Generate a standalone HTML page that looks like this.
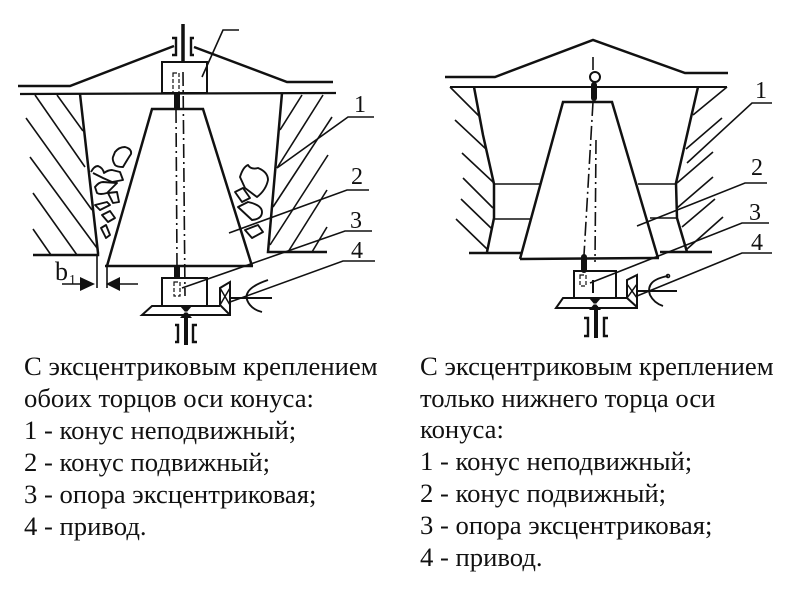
<!DOCTYPE html>
<html>
<head>
<meta charset="utf-8">
<style>
html,body{margin:0;padding:0;background:#fff;width:800px;height:600px;overflow:hidden}
svg{display:block}
text{font-family:"Liberation Serif",serif;fill:#111}
.t{font-size:26.67px}
.n{font-size:24px}
</style>
</head>
<body>
<svg width="800" height="600" viewBox="0 0 800 600" xmlns="http://www.w3.org/2000/svg">
<rect width="800" height="600" fill="#fff"/>
<g fill="none" stroke="#111" stroke-linejoin="miter" stroke-linecap="butt">
<!-- LEFT DIAGRAM -->
<g stroke-width="2.5">
<polyline points="18,86 70,86 174,46"/>
<polyline points="194,47 287,82 333,82"/>
<polyline points="80,94 98,253 98,255 33,255"/>
<polyline points="282,93 268,252 327,252"/>
<polyline points="107,266 152,109 203,109 252,266"/>
<line x1="105" y1="266" x2="253" y2="266"/>
</g>
<line x1="20" y1="94" x2="336" y2="93" stroke-width="2.2"/>
<g stroke-width="2">
<rect x="162" y="62" width="45" height="31"/>
<rect x="162" y="278" width="45" height="28"/>
<polyline points="220,306 152,306 142,315 230,315 230,282 220,288 220,305 230,315"/>
</g>
<g stroke-width="1.6">
<line x1="35" y1="95" x2="85" y2="167"/><line x1="57" y1="95" x2="83" y2="131"/>
<line x1="26" y1="118" x2="92" y2="210"/><line x1="30" y1="157" x2="97" y2="248"/>
<line x1="33" y1="193" x2="77" y2="255"/><line x1="33" y1="229" x2="51" y2="255"/>
<line x1="302" y1="95" x2="280" y2="130"/><line x1="323" y1="95" x2="277" y2="168"/>
<line x1="332" y1="117" x2="273" y2="207"/><line x1="328" y1="155" x2="270" y2="245"/>
<line x1="327" y1="190" x2="288" y2="252"/><line x1="327" y1="227" x2="312" y2="252"/>
</g>
<g stroke-width="1.6">
<polyline points="374,117 348,117 277,168"/>
<polyline points="369,190 347,190 229,233"/>
<polyline points="372,231 345,231 182,288"/>
<polyline points="375,261 343,261 230,302"/>
<polyline points="239,30 223,30 202,77"/>
<line x1="97" y1="255" x2="97" y2="288"/>
<line x1="107" y1="266" x2="107" y2="288"/>
<line x1="62" y1="284" x2="80" y2="284"/>
<line x1="138" y1="284" x2="120" y2="284"/>
<rect x="173" y="73" width="6" height="20" stroke-dasharray="4 2" stroke-width="1.2"/>
<rect x="174" y="282" width="6" height="14" stroke-dasharray="4 2" stroke-width="1.2"/>
<line x1="176" y1="109" x2="177" y2="266" stroke-dasharray="14 4 2 4"/>
<line x1="183" y1="72" x2="185" y2="296" stroke-dasharray="14 4 2 4"/>
</g>
<g stroke-width="1.9" stroke-linejoin="round">
<path d="M115,152 Q119,147 125,147 Q132,149 131,154 Q127,160 123,167 Q117,167 115,165 Q112,160 113,157 Z"/>
<path d="M95,187 Q99,182 103,182 L117,183 L107,193 Q100,195 97,193 Z"/>
<polygon points="108,193 117,192 119,202 113,203"/>
<polygon points="95,205 107,202 110,205 100,210"/>
<polygon points="102,215 110,211 115,218 108,222"/>
<polygon points="101,228 106,225 110,235 106,238"/>
<path d="M91,172 Q94,166 98,166 Q103,168 104,173 Q108,170 112,170 L120,172 L123,180 L112,182 L103,178 L93,173"/>
<path d="M240,177 Q243,167 248,165 Q251,170 258,168 Q268,172 268,180 Q266,190 257,197 L245,188 Z"/>
<polygon points="235,192 243,188 250,198 242,202"/>
<path d="M238,207 L248,202 Q262,205 262,212 Q262,219 252,220 Z"/>
<polygon points="245,230 258,225 263,232 252,238"/>
<path d="M268,280 Q238,290 250,305 Q254,310 262,312"/>
</g>
<line x1="230" y1="298" x2="272" y2="298" stroke-width="2"/>
<line x1="220" y1="288" x2="230" y2="305" stroke-width="1.5"/>
<line x1="230" y1="288" x2="220" y2="305" stroke-width="1.5"/>
<line x1="183" y1="24" x2="183" y2="62" stroke-width="3.5"/>
<line x1="177" y1="93" x2="177" y2="109" stroke-width="6"/>
<line x1="177" y1="266" x2="177" y2="278" stroke-width="6"/>
<line x1="186" y1="314" x2="186" y2="345" stroke-width="4"/>
<path d="M180,306 L192,306 L186,313 Z M180,318 L192,318 L186,311 Z" fill="#111" stroke="none"/>
<g stroke-width="2.4">
<polyline points="172,38 176,38 176,55 172,55"/>
<polyline points="194,38 191,38 191,55 194,55"/>
<polyline points="175,325 178,325 178,342 175,342"/>
<polyline points="197,325 193,325 193,342 197,342"/>
</g>
<!-- RIGHT DIAGRAM -->
<g stroke-width="2.5">
<polyline points="445,77 495,77 593,40 685,73 728,73"/>
<polyline points="474,87 483,135 494,184 494,218 487,252"/>
<polyline points="698,87 676,183 677,218 687,252"/>
<line x1="469" y1="253" x2="521" y2="253"/>
<line x1="660" y1="252" x2="712" y2="252"/>
<polyline points="520,259 563,102 612,102 658,258"/>
<line x1="520" y1="259" x2="659" y2="258"/>
</g>
<line x1="450" y1="87" x2="727" y2="87" stroke-width="2"/>
<g stroke-width="2">
<rect x="574" y="271" width="42" height="27"/>
<polyline points="628,298 563,298 556,308 637,308 637,275 627,280 627,298 637,307"/>
</g>
<g stroke-width="1.6">
<line x1="494" y1="184" x2="540" y2="184"/><line x1="638" y1="184" x2="676" y2="184"/>
<line x1="494" y1="219" x2="530" y2="219"/><line x1="650" y1="218" x2="677" y2="218"/>
<line x1="450" y1="87" x2="480" y2="117"/><line x1="455" y1="120" x2="486" y2="149"/>
<line x1="462" y1="153" x2="493" y2="182"/><line x1="463" y1="178" x2="493" y2="208"/>
<line x1="461" y1="199" x2="492" y2="229"/><line x1="456" y1="219" x2="487" y2="249"/>
<line x1="727" y1="87" x2="693" y2="115"/><line x1="722" y1="118" x2="686" y2="149"/>
<line x1="713" y1="152" x2="677" y2="183"/><line x1="713" y1="177" x2="677" y2="208"/>
<line x1="715" y1="199" x2="682" y2="227"/><line x1="723" y1="217" x2="687" y2="249"/>
</g>
<g stroke-width="1.6">
<polyline points="772,103 752,103 687,163"/>
<polyline points="767,183 745,183 637,226"/>
<polyline points="769,223 742,223 590,283"/>
<polyline points="772,253 742,253 637,296"/>
<path d="M668,276 Q645,280 650,295 Q654,303 663,306" stroke-width="1.9"/>
<circle cx="668" cy="276" r="1.5"/>
<line x1="593" y1="57" x2="593" y2="70"/>
<line x1="593" y1="102" x2="584" y2="255" stroke-dasharray="14 4 2 4"/>
<line x1="596" y1="140" x2="595" y2="262" stroke-dasharray="14 4 2 4"/>
<rect x="580" y="275" width="6" height="11" stroke-dasharray="4 2" stroke-width="1.2"/>
<line x1="593" y1="280" x2="593" y2="293" stroke-width="2"/>
</g>
<circle cx="595" cy="77" r="5" stroke-width="2"/>
<line x1="594" y1="85" x2="594" y2="98" stroke-width="6" stroke-linecap="round"/>
<line x1="584" y1="257" x2="584" y2="270" stroke-width="6" stroke-linecap="round"/>
<line x1="596" y1="306" x2="596" y2="338" stroke-width="4"/>
<path d="M589,298 L601,298 L595,305 Z M589,310 L601,310 L595,303 Z" fill="#111" stroke="none"/>
<line x1="637" y1="291" x2="677" y2="291" stroke-width="2"/>
<line x1="627" y1="284" x2="637" y2="298" stroke-width="1.5"/>
<line x1="637" y1="284" x2="627" y2="298" stroke-width="1.5"/>
<g stroke-width="2.4">
<polyline points="584,318 588,318 588,336 584,336"/>
<polyline points="608,318 604,318 604,336 608,336"/>
</g>
</g>
<polygon points="80,277 95,284 80,291" fill="#111"/>
<polygon points="120,277 106,284 120,291" fill="#111"/>
<text x="55" y="280" font-size="26">b</text>
<text x="69" y="284" font-size="14">1</text>
<text class="n" x="354" y="112">1</text>
<text class="n" x="351" y="184">2</text>
<text class="n" x="350" y="228">3</text>
<text class="n" x="351" y="258">4</text>
<text class="n" x="755" y="98">1</text>
<text class="n" x="751" y="175">2</text>
<text class="n" x="749" y="220">3</text>
<text class="n" x="751" y="250">4</text>
<text class="t" x="24" y="375">С эксцентриковым креплением</text>
<text class="t" x="24" y="407">обоих торцов оси конуса:</text>
<text class="t" x="24" y="439">1 - конус неподвижный;</text>
<text class="t" x="24" y="471">2 - конус подвижный;</text>
<text class="t" x="24" y="503">3 - опора эксцентриковая;</text>
<text class="t" x="24" y="535">4 - привод.</text>
<text class="t" x="420" y="375">С эксцентриковым креплением</text>
<text class="t" x="420" y="407">только нижнего торца оси</text>
<text class="t" x="420" y="438">конуса:</text>
<text class="t" x="420" y="470">1 - конус неподвижный;</text>
<text class="t" x="420" y="502">2 - конус подвижный;</text>
<text class="t" x="420" y="534">3 - опора эксцентриковая;</text>
<text class="t" x="420" y="566">4 - привод.</text>
</svg>
</body>
</html>
